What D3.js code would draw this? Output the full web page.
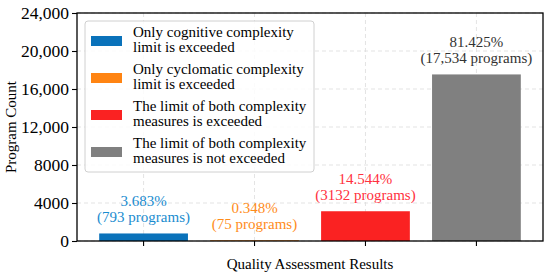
<!DOCTYPE html>
<html>
<head>
<meta charset="utf-8">
<script src="https://cdn.jsdelivr.net/npm/d3@7"></script>
<style>
  body { margin: 0; background: #fff; }
  text { font-family: "Liberation Serif", "Times New Roman", serif; }
</style>
</head>
<body>
<div id="chart"></div>
<script>
// data
var categories = ['cognitive', 'cyclomatic', 'both', 'none'];
var counts = [793, 75, 3132, 17534];
var percents = ['3.683%', '0.348%', '14.544%', '81.425%'];
var countLabels = ['(793 programs)', '(75 programs)', '(3132 programs)', '(17,534 programs)'];
var colors = ['#0a72ba', '#ff8412', '#fa2222', '#808080'];
var labelColors = ['#1a8ccf', '#ff8c1a', '#ff3040', '#333333'];
var legendLines = [
  ['Only cognitive complexity', 'limit is exceeded'],
  ['Only cyclomatic complexity', 'limit is exceeded'],
  ['The limit of both complexity', 'measures is exceeded'],
  ['The limit of both complexity', 'measures is not exceeded']
];
var yTicks = [0, 4000, 8000, 12000, 16000, 20000, 24000];
var yTickLabels = ['0', '4000', '8000', '12,000', '16,000', '20,000', '24,000'];

var W = 550, H = 279;
var m = {left: 77, top: 13, right: 7, bottom: 38};
var iw = W - m.left - m.right, ih = H - m.top - m.bottom;
var serif = '"Liberation Serif", "Times New Roman", serif';

var svg = d3.select('#chart').append('svg')
  .attr('width', W).attr('height', H)
  .attr('font-family', serif);
var g = svg.append('g').attr('transform', 'translate(' + m.left + ',' + m.top + ')');

var x = d3.scaleBand().domain(categories).range([0, iw])
  .paddingInner(0.2).paddingOuter(0.2);
var y = d3.scaleLinear().domain([0, 24000]).range([ih, 0]);

// grid
g.selectAll('.hgrid').data(yTicks).enter().append('line')
  .attr('x1', 0).attr('x2', iw)
  .attr('y1', function(d){ return y(d); }).attr('y2', function(d){ return y(d); })
  .attr('stroke', '#dcdcdc').attr('stroke-width', 0.8).attr('stroke-dasharray', '4,3');
g.selectAll('.vgrid').data(categories).enter().append('line')
  .attr('x1', function(d){ return x(d) + x.bandwidth()/2; })
  .attr('x2', function(d){ return x(d) + x.bandwidth()/2; })
  .attr('y1', 0).attr('y2', ih)
  .attr('stroke', '#dcdcdc').attr('stroke-width', 0.8).attr('stroke-dasharray', '4,3');

// bars
g.selectAll('.bar').data(counts).enter().append('rect')
  .attr('x', function(d, i){ return x(categories[i]); })
  .attr('y', function(d){ return y(d); })
  .attr('width', x.bandwidth())
  .attr('height', function(d){ return ih - y(d); })
  .attr('fill', function(d, i){ return colors[i]; });

// bar labels
counts.forEach(function(d, i) {
  var cx = x(categories[i]) + x.bandwidth()/2;
  var t = g.append('text').attr('text-anchor', 'middle').attr('font-family', serif)
    .attr('font-size', 15).attr('fill', labelColors[i]);
  t.append('tspan').attr('x', cx).attr('y', y(d) - 27).text(percents[i]);
  t.append('tspan').attr('x', cx).attr('y', y(d) - 11).text(countLabels[i]);
});

// axes
var yAxis = g.append('g').call(d3.axisLeft(y).tickValues(yTicks).tickSize(5).tickPadding(3)
  .tickFormat(function(d, i){ return yTickLabels[i]; }));
yAxis.attr('font-family', serif);
yAxis.select('.domain').remove();
yAxis.selectAll('line').attr('stroke', '#000').attr('stroke-width', 1.1);
yAxis.selectAll('text').attr('font-size', 17.5).attr('fill', '#000');

var xAxis = g.append('g').attr('transform', 'translate(0,' + ih + ')')
  .call(d3.axisBottom(x).tickSize(5).tickFormat(''));
xAxis.select('.domain').remove();
xAxis.selectAll('line').attr('stroke', '#000').attr('stroke-width', 1.1);

// frame
g.append('rect').attr('x', 0).attr('y', 0).attr('width', iw).attr('height', ih)
  .attr('fill', 'none').attr('stroke', '#000').attr('stroke-width', 1.3);

// legend
var lg = g.append('g').attr('transform', 'translate(8,8)');
lg.append('rect').attr('width', 229).attr('height', 151).attr('rx', 3)
  .attr('fill', 'rgba(255,255,255,0.85)').attr('stroke', '#d0d0d0').attr('stroke-width', 1);
legendLines.forEach(function(lines, i) {
  var cy = 20 + i * 37;
  lg.append('rect').attr('x', 6).attr('y', cy - 5).attr('width', 31).attr('height', 10)
    .attr('fill', colors[i]);
  var t = lg.append('text').attr('font-family', serif).attr('font-size', 15).attr('fill', '#000');
  t.append('tspan').attr('x', 48).attr('y', cy - 4).text(lines[0]);
  t.append('tspan').attr('x', 48).attr('y', cy + 11).text(lines[1]);
});

// axis titles
svg.append('text').attr('text-anchor', 'middle').attr('font-size', 15)
  .attr('transform', 'translate(16,' + (m.top + ih/2) + ') rotate(-90)')
  .text('Program Count');
svg.append('text').attr('text-anchor', 'middle').attr('font-size', 15)
  .attr('x', m.left + iw/2).attr('y', 269)
  .text('Quality Assessment Results');
</script>
</body>
</html>
